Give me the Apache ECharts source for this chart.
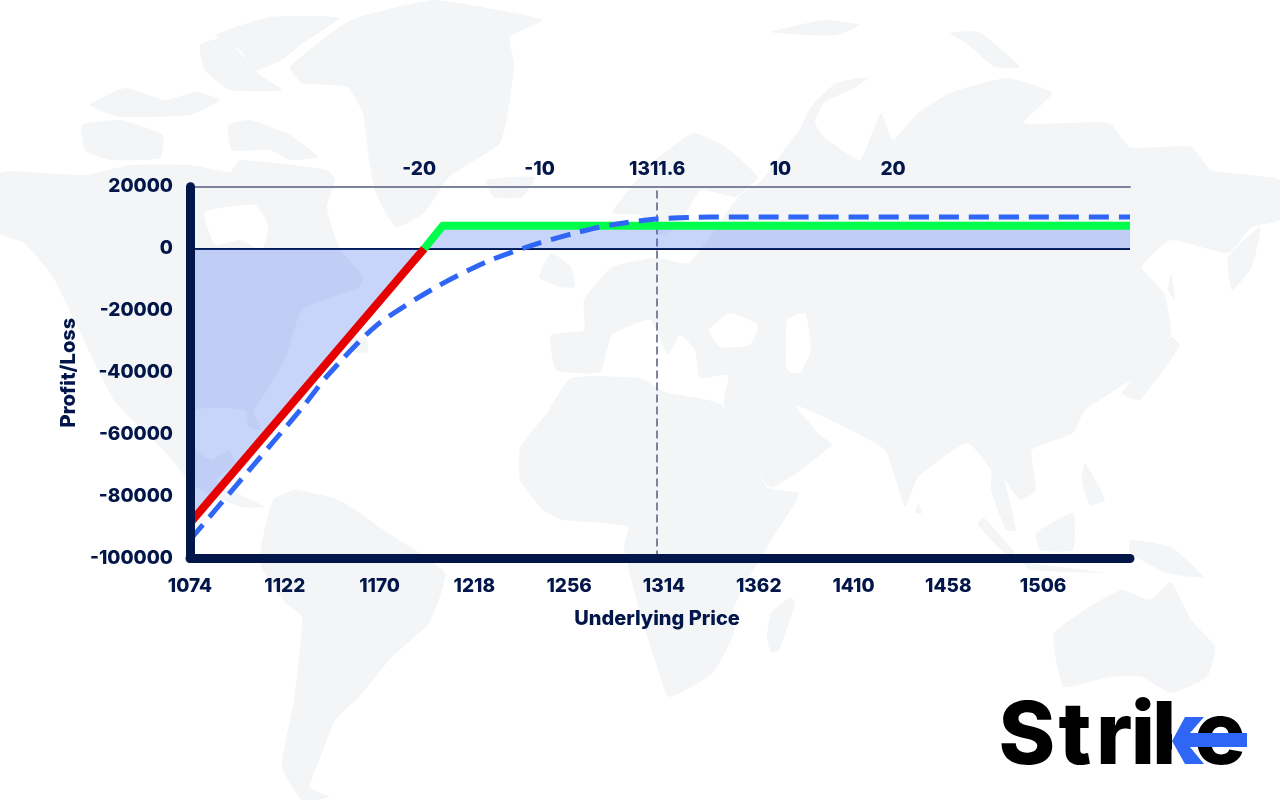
<!DOCTYPE html>
<html>
<head>
<meta charset="utf-8">
<title>Profit/Loss</title>
<style>
  html, body { margin: 0; padding: 0; background: #fff; }
  #main { width: 1280px; height: 800px; }
</style>
<script src="https://cdn.jsdelivr.net/npm/echarts@6/dist/echarts.min.js"></script>
</head>
<body>
<div id="main"></div>
<script>
// values
var priceTicks = [1074, 1122, 1170, 1218, 1266, 1314, 1362, 1410, 1458, 1506];
var priceLabels = ['1074', '1122', '1170', '1218', '1256', '1314', '1362', '1410', '1458', '1506'];
var strikeTicks = [1190, 1251, 1310.6, 1373, 1430];
var strikeLabels = ['-20', '-10', '1311.6', '10', '20'];
var spotPrice = 1310.6;

var lossPrices = [1074, 1192.6];
var lossValues = [-88600, 0];
var profitPrices = [1192.6, 1202, 1550];
var profitValues = [0, 7400, 7400];
var curvePrices = [1074, 1099.8, 1130.7, 1143.4, 1168.2, 1197, 1223.9, 1250.7, 1277.5, 1293.7, 1310.4, 1327.1, 1347.4, 1550];
var curveValues = [-94000, -74600, -51400, -41100, -24900, -13000, -4300, 1800, 6400, 8300, 9600, 10100, 10200, 10200];

function pairs(xs, ys) {
    return xs.map(function (x, i) { return [x, ys[i]]; });
}

var navy = '#02164a';
var tickFont = { color: navy, fontFamily: 'Inter', fontWeight: 800, fontSize: 19 };
var nameFont = { color: navy, fontFamily: 'Inter', fontWeight: 800, fontSize: 20 };

// faint world map behind the chart, decoration only
var landShapes = [
    // greenland
    [[290,67],[351,20],[433,0],[498,10],[543,20],[510,37],[514,63],[510,100],[500,143],[449,177],[424,213],[396,227],[376,193],[369,160],[363,113],[347,87],[302,83]],
    // north america
    [[0,173],[41,173],[85,175],[130,165],[190,165],[230,172],[240,160],[327,170],[335,180],[327,207],[339,247],[363,277],[359,287],[302,310],[286,357],[261,400],[253,410],[261,430],[249,427],[245,410],[196,410],[196,450],[212,460],[229,450],[235,463],[216,480],[245,497],[265,507],[241,507],[196,487],[163,450],[114,400],[53,277],[24,243],[0,233]],
    // arctic islands
    [[228,125],[250,120],[290,135],[318,157],[290,160],[270,150],[232,150]],
    [[216,35],[270,17],[339,18],[300,45],[282,60],[255,70],[240,50]],
    [[200,45],[225,38],[260,75],[282,90],[230,90],[205,70]],
    [[82,125],[120,120],[163,135],[160,158],[110,160],[85,150]],
    [[90,105],[125,88],[165,100],[196,92],[220,100],[190,115],[120,117]],
    [[350,340],[366,338],[368,352],[352,352]],
    // south america
    [[261,547],[273,500],[294,490],[339,500],[388,533],[445,573],[429,623],[392,657],[359,697],[335,720],[322,753],[310,787],[330,797],[302,800],[282,767],[294,700],[302,617],[286,603],[261,567]],
    // africa
    [[571,378],[640,378],[665,392],[722,405],[767,487],[799,493],[795,503],[767,547],[734,607],[734,633],[713,673],[669,697],[656,663],[640,613],[624,547],[628,527],[604,523],[563,520],[543,510],[520,480],[520,448],[547,413]],
    // eurasia
    [[551,335],[584,330],[584,300],[612,267],[656,258],[689,263],[738,197],[762,180],[803,127],[832,143],[860,160],[881,113],[893,140],[918,113],[950,93],[1007,78],[1052,93],[1024,123],[1109,123],[1130,147],[1191,147],[1211,170],[1280,180],[1280,220],[1252,227],[1228,253],[1171,240],[1142,267],[1164,293],[1171,333],[1150,367],[1085,410],[1073,433],[1032,450],[1036,490],[1020,500],[1005,480],[1016,530],[1006,530],[991,490],[991,470],[967,443],[918,477],[905,507],[885,450],[830,420],[795,405],[820,435],[832,445],[770,487],[724,405],[728,375],[700,378],[695,350],[680,335],[668,355],[650,320],[612,335],[600,372],[556,370]],
    // scandinavia
    [[612,213],[650,165],[693,133],[726,147],[758,177],[745,190],[735,197],[700,190],[680,225],[660,235],[640,215]],
    // britain, iceland
    [[551,253],[571,267],[575,287],[559,287],[539,277]],
    [[486,180],[535,177],[522,197],[494,197]],
    // madagascar, australia, new guinea
    [[791,597],[795,603],[779,650],[771,653],[767,637],[771,613]],
    [[1054,633],[1089,607],[1122,590],[1150,600],[1171,582],[1191,620],[1215,647],[1207,677],[1171,693],[1142,677],[1109,677],[1064,687],[1056,660]],
    [[1130,540],[1171,547],[1203,577],[1167,573],[1130,553]],
    // islands of asia
    [[983,517],[1015,553],[1005,553],[978,525]],
    [[1036,533],[1073,513],[1073,550],[1040,550]],
    [[1024,563],[1105,573],[1030,570]],
    [[1085,463],[1105,500],[1090,505],[1082,480]],
    [[918,503],[922,513],[915,513]],
    [[1122,393],[1171,337],[1180,345],[1140,400]],
    [[1171,273],[1175,300],[1168,290]],
    [[1260,227],[1228,257],[1232,290],[1252,267]],
    // arctic russia
    [[869,77],[836,83],[811,107],[801,130],[828,143],[815,123],[824,103],[856,87]],
    [[771,32],[824,20],[860,25],[836,35],[803,35]],
    [[950,33],[979,32],[1020,67],[995,67],[966,43]]
];
var waterShapes = [
    // hudson bay
    [[205,212],[255,205],[268,225],[262,250],[240,240],[215,245]],
    // black sea, caspian
    [[709,330],[730,313],[758,325],[750,345],[720,347]],
    [[787,320],[805,313],[811,350],[800,373],[787,370]]
];

var graphics = [];
landShapes.forEach(function (pts) {
    graphics.push({ type: 'polygon', silent: true, z: -2, shape: { points: pts, smooth: 0.15 }, style: { fill: '#f4f5f7' } });
});
waterShapes.forEach(function (pts) {
    graphics.push({ type: 'polygon', silent: true, z: -1, shape: { points: pts, smooth: 0.15 }, style: { fill: '#ffffff' } });
});

// logo, letter by letter because the k and e share the arrow
function logoLetter(ch, x, align, z) {
    graphics.push({ type: 'text', z: z, silent: true, x: x, y: 738, style: { text: ch, fill: '#000', font: '800 86px Inter', align: align, verticalAlign: 'middle' } });
}
logoLetter('S', 1027, 'center', 20);
logoLetter('t', 1075, 'center', 20);
logoLetter('r', 1114, 'center', 20);
logoLetter('i', 1143, 'center', 20);
logoLetter('k', 1152, 'left', 20);
graphics.push({ type: 'rect', z: 21, silent: true, shape: { x: 1172, y: 700, width: 50, height: 72 }, style: { fill: '#fff' } });
logoLetter('e', 1220, 'center', 22);
graphics.push({ type: 'polygon', z: 23, silent: true, shape: { points: [[1185,717],[1204,717],[1190,733],[1247,733],[1247,747],[1190,747],[1204,764],[1185,764],[1172,741]] }, style: { fill: '#2f66f6' } });

var myChart = echarts.init(document.getElementById('main'));

var option = {
    animation: false,
    backgroundColor: '#fff',
    graphic: graphics,
    grid: { left: 190, right: 150, top: 186.7, bottom: 241.5 },
    xAxis: [
        {
            type: 'value', min: 1074, max: 1550, position: 'bottom', z: 10,
            name: 'Underlying Price', nameLocation: 'middle', nameGap: 50,
            nameTextStyle: Object.assign({}, nameFont, { padding: [0, 6, 0, 0] }),
            splitLine: { show: false },
            axisTick: { show: false },
            axisLine: { onZero: false, lineStyle: { color: navy, width: 9, cap: 'round' } },
            axisLabel: Object.assign({}, tickFont, {
                margin: 18,
                customValues: priceTicks,
                formatter: function (v) { return priceLabels[priceTicks.indexOf(v)]; }
            })
        },
        {
            type: 'value', min: 1074, max: 1550, position: 'top',
            splitLine: { show: false },
            axisTick: { show: false },
            axisLine: { onZero: false, lineStyle: { color: '#7b849c', width: 2 } },
            axisLabel: Object.assign({}, tickFont, {
                margin: 8,
                customValues: strikeTicks,
                formatter: function (v) { return strikeLabels[strikeTicks.indexOf(v)]; }
            })
        }
    ],
    yAxis: {
        type: 'value', min: -100000, max: 20000, interval: 20000, z: 10,
        name: 'Profit/Loss', nameLocation: 'middle', nameGap: 91,
        nameTextStyle: nameFont,
        splitLine: { show: false },
        axisTick: { show: false },
        axisLine: { onZero: false, lineStyle: { color: navy, width: 9, cap: 'round' } },
        axisLabel: Object.assign({}, tickFont, {
            margin: 17,
            formatter: function (v) { return String(v); }
        })
    },
    series: [
        {
            type: 'line', z: 1, showSymbol: false, silent: true,
            data: pairs(lossPrices, lossValues).concat(pairs(profitPrices, profitValues).slice(1)),
            lineStyle: { width: 0 },
            areaStyle: { color: 'rgba(50,100,235,0.27)', opacity: 1 },
            markLine: {
                silent: true, symbol: 'none', z: 1, animation: false,
                label: { show: false },
                data: [
                    { yAxis: 0, lineStyle: { color: navy, width: 2, type: 'solid' } },
                    { xAxis: spotPrice, lineStyle: { color: '#7b849c', width: 2, type: [8, 4] } }
                ]
            }
        },
        {
            type: 'line', z: 3, showSymbol: false,
            data: pairs(lossPrices, lossValues),
            lineStyle: { color: '#e60000', width: 8 }
        },
        {
            type: 'line', z: 3, showSymbol: false,
            data: pairs(profitPrices, profitValues),
            lineStyle: { color: '#00ff4c', width: 8, join: 'round' }
        },
        {
            type: 'line', z: 4, showSymbol: false, smooth: 0.25,
            data: pairs(curvePrices, curveValues),
            lineStyle: { color: '#2f66f6', width: 5, type: [20, 10] }
        }
    ]
};
myChart.setOption(option);
</script>
</body>
</html>
